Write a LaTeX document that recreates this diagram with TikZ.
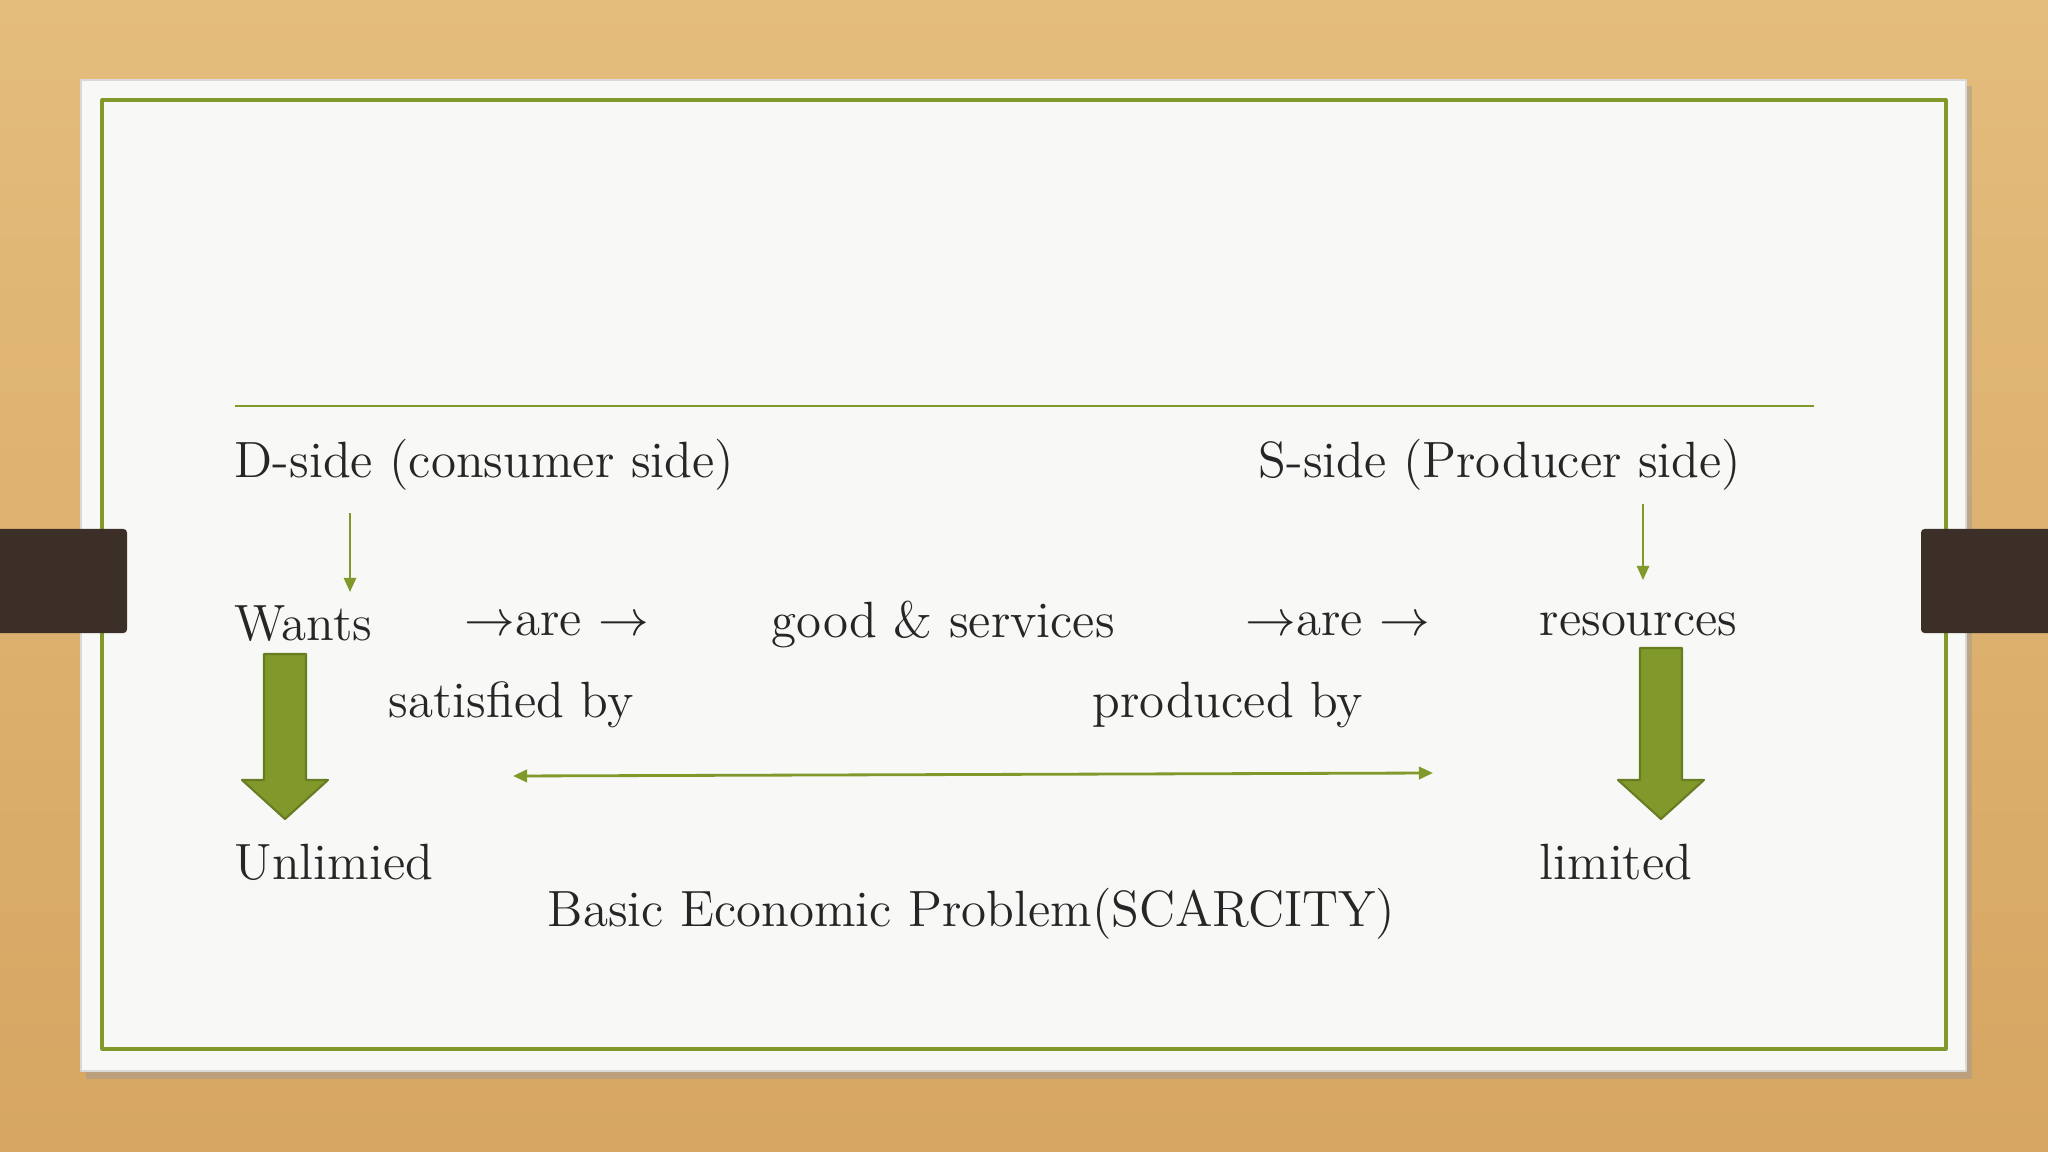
\documentclass[tikz,border=0pt]{standalone}
\usetikzlibrary{arrows.meta}
\definecolor{wood}{RGB}{228,188,124}
\definecolor{wooddark}{RGB}{214,166,98}
\definecolor{leaf}{RGB}{128,153,42}
\definecolor{leafdark}{RGB}{104,124,34}
\definecolor{strap}{RGB}{59,47,39}
\definecolor{ink}{RGB}{38,38,38}
\definecolor{paper}{RGB}{248,248,247}
\begin{document}
\begin{tikzpicture}[x=0.01cm, y=-0.01cm, >={Triangle[length=4pt,width=3.5pt]}, line join=round,
	every node/.style={text=ink, font=\fontsize{14.5}{17}\selectfont, inner sep=0pt, anchor=west},
	thin arrow/.style={->, draw=leaf, line width=0.5pt},
	rule/.style={draw=leaf, line width=0.6pt},
	fat/.style={fill=leaf, draw=leafdark, line width=0.6pt}]
	\def\fatarrow(#1,#2){(#1-21,#2) -- (#1+21,#2) -- (#1+21,780) -- (#1+43,780) -- (#1,819) -- (#1-43,780) -- (#1-21,780) -- cycle}
	% table and card
	\useasboundingbox (0,0) rectangle (2048,1152);
	\shade[top color=wood, bottom color=wooddark] (0,0) rectangle (2048,1152);
	\fill[black!40, opacity=0.45] (86,86) rectangle (1972,1079);
	\fill[paper, draw=black!15] (81,80) rectangle (1966,1071);
	\draw[leaf, line width=0.9pt] (102,100) rectangle (1946,1049);
	\fill[strap, rounded corners=1pt] (-10,529) rectangle (127,633);
	\fill[strap, rounded corners=1pt] (1921,529) rectangle (2058,633);
	\draw[rule] (235,406) -- (1814,406);
	% texts
	\node (dside) at (234,465) {D-side (consumer side)};
	\node (sside) at (1258,465) {S-side (Producer side)};
	\node (wants) at (234,624) {Wants};
	\node (are1) at (464,624) {$\rightarrow$are $\rightarrow$};
	\node (goods) at (771,624) {good \& services};
	\node (are2) at (1245,624) {$\rightarrow$are $\rightarrow$};
	\node (resources) at (1539,624) {resources};
	\node (satisfied) at (388,705) {satisfied by};
	\node (produced) at (1092,705) {produced by};
	\node (unlimited) at (234,862) {Unlimied};
	\node (limited) at (1539,862) {limited};
	\node (problem) at (547,914) {Basic Economic Problem(SCARCITY)};
	% arrows
	\coordinate (d1) at (350,513);
	\coordinate (d2) at (350,592);
	\coordinate (s1) at (1643,504);
	\coordinate (s2) at (1643,580);
	\draw[thin arrow] (d1) -- (d2);
	\draw[thin arrow] (s1) -- (s2);
	\filldraw[fat] \fatarrow(285,654);
	\filldraw[fat] \fatarrow(1661,648);
	\coordinate (pl) at (513,776);
	\coordinate (pr) at (1433,773);
	\draw[<->, leaf, line width=0.8pt] (pl) -- (pr);
\end{tikzpicture}
\end{document}
